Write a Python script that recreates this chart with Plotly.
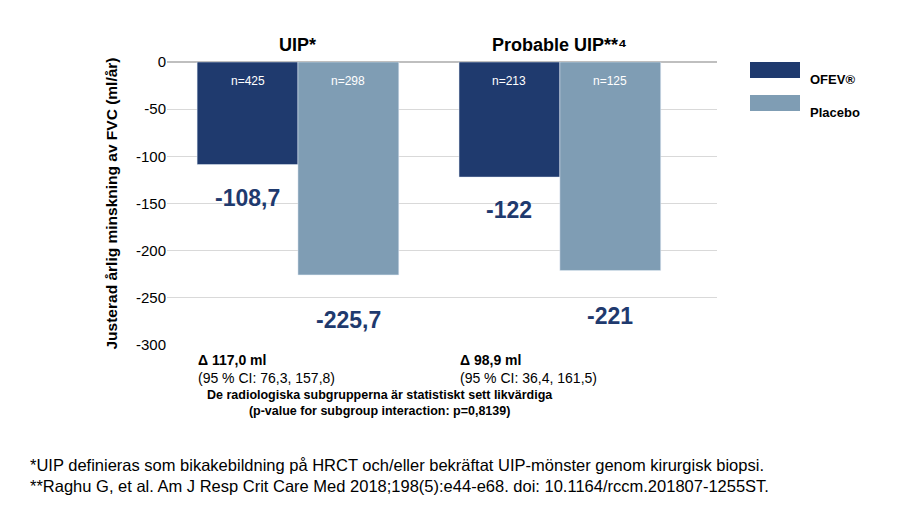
import plotly.graph_objects as go

groups = ["UIP*", "Probable UIP**⁴"]
ofev = [-108.7, -122]
placebo = [-225.7, -221]
n_ofev = ["n=425", "n=213"]
n_placebo = ["n=298", "n=125"]
label_ofev = ["-108,7", "-122"]
label_placebo = ["-225,7", "-221"]
delta_text = ["<b>Δ 117,0 ml</b><br>(95 % CI: 76,3, 157,8)", "<b>Δ 98,9 ml</b><br>(95 % CI: 36,4, 161,5)"]
yticks = [0, -50, -100, -150, -200, -250, -300]

C1 = "#1f3a6e"
C2 = "#7f9db4"
x = [0, 1]
fig = go.Figure()
fig.add_bar(x=x, y=ofev, marker_color=C1, name="OFEV®", showlegend=False)
fig.add_bar(x=x, y=placebo, marker_color=C2, name="Placebo", showlegend=False)

D = 8  # page body offset
W = 897; H = 506; L = 167 - D; R = 717 - D; T = 62 - D; B = 345 - D
def px(xp): return (xp - D - L) / (R - L)
def py(yp): return (B - (yp - D)) / (B - T)

ann = []
off = 0.385 / 2
for i in range(2):
    ann.append(dict(x=x[i] - off, y=-20, text=n_ofev[i], showarrow=False, font=dict(color="white", size=12), xref="x", yref="y"))
    ann.append(dict(x=x[i] + off, y=-20, text=n_placebo[i], showarrow=False, font=dict(color="white", size=12), xref="x", yref="y"))
    ann.append(dict(x=x[i] - off, y=ofev[i] - 35, text="<b>" + label_ofev[i] + "</b>", showarrow=False, font=dict(color=C1, size=23), xref="x", yref="y"))
    ann.append(dict(x=x[i] + off, y=placebo[i] - 48, text="<b>" + label_placebo[i] + "</b>", showarrow=False, font=dict(color=C1, size=23), xref="x", yref="y"))
    ann.append(dict(x=x[i], y=py(33), text="<b>" + groups[i] + "</b>", showarrow=False, font=dict(color="black", size=18), xref="x", yref="paper"))
    ann.append(dict(x=x[i] - 0.39, y=py(350), xanchor="left", yanchor="top", align="left", text=delta_text[i], showarrow=False, font=dict(color="black", size=14), xref="x", yref="paper"))

ann.append(dict(x=px(380), y=py(420), text="<b>De radiologiska subgrupperna är statistiskt sett likvärdiga<br>(p-value for subgroup interaction: p=0,8139)</b>", showarrow=False, font=dict(color="black", size=12.5), xref="paper", yref="paper"))
ann.append(dict(x=px(28), y=py(454), xanchor="left", yanchor="top", align="left", text="*UIP definieras som bikakebildning på HRCT och/eller bekräftat UIP-mönster genom kirurgisk biopsi.<br>**Raghu G, et al. Am J Resp Crit Care Med 2018;198(5):e44-e68. doi: 10.1164/rccm.201807-1255ST.", showarrow=False, font=dict(color="black", size=16.5), xref="paper", yref="paper"))
shapes = []
for name, c, yy in [("OFEV®", C1, 70), ("Placebo", C2, 103)]:
    shapes.append(dict(type="rect", xref="paper", yref="paper", x0=px(750), x1=px(800), y0=py(yy + 8), y1=py(yy - 8), fillcolor=c, line_width=0))
    ann.append(dict(x=px(808), y=py(yy), xanchor="left", text="<b>" + name + "</b>", showarrow=False, font=dict(color="black", size=13), xref="paper", yref="paper"))

fig.update_layout(
    width=W, height=H, margin=dict(l=L, r=W - R, t=T, b=H - B),
    paper_bgcolor="white", plot_bgcolor="white",
    barmode="group", bargap=0.23, bargroupgap=0,
    font=dict(family="Liberation Sans, Arial", color="black"),
    xaxis=dict(range=[-0.5, 1.6], showticklabels=False, showgrid=False, zeroline=False),
    yaxis=dict(range=[-300, 0], tickvals=yticks, ticktext=[str(v) for v in yticks], gridcolor="#d9d9d9",
               zeroline=True, zerolinecolor="#bfbfbf", zerolinewidth=1.5, ticks="", tickfont=dict(size=15),
               title=dict(text="<b>Justerad årlig minskning av FVC (ml/år)</b>", font=dict(size=15.5), standoff=14)),
    annotations=ann, shapes=shapes,
)
fig.write_html("out.html")
